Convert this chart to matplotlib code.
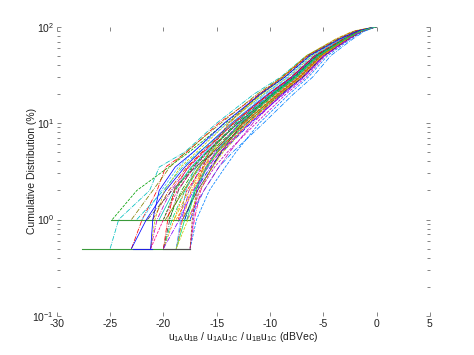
import numpy as np
import matplotlib
matplotlib.use("Agg")
import matplotlib.pyplot as plt
from matplotlib.ticker import LogLocator, NullFormatter

plt.rcParams['font.family'] = ['Liberation Sans', 'DejaVu Sans']
plt.rcParams['mathtext.fontset'] = 'custom'
plt.rcParams['mathtext.rm'] = 'Liberation Sans'
plt.rcParams['mathtext.it'] = 'Liberation Sans'

nan = np.nan
# cumulative levels (%)
levels = [0.5, 1, 2, 3.5, 5, 10, 20, 30, 50, 75, 90, 100]
# x (dBVec) of each curve at each level
curves = [
    [-25.0, -24.2, -21.3, -20.4, -18.0, -15.0, -11.5, -9.0, -6.6, -3.6, -2.0, 0],
    [nan, -24.8, -22.5, -19.5, -17.6, -14.2, -10.8, -8.6, -6.2, -3.3, -1.8, 0],
    [-23.0, -22.0, -20.6, -19.8, -17.8, -14.8, -11.0, -8.8, -6.4, -3.5, -1.9, 0],
    [-23.0, -21.6, -19.8, -18.0, -16.6, -13.6, -10.2, -8.0, -5.8, -3.1, -1.7, 0],
    [-21.2, -20.6, -19.3, -17.6, -16.2, -13.4, -10.0, -7.9, -5.7, -3.1, -1.7, 0],
    [-21.2, -20.8, -19.9, -18.4, -16.9, -14.0, -10.6, -8.3, -6.0, -3.2, -1.7, 0],
    [-20.0, -19.4, -18.6, -17.2, -15.9, -13.2, -9.9, -7.8, -5.6, -3.0, -1.6, 0],
    [-20.0, -19.0, -18.0, -16.6, -15.4, -12.6, -9.4, -7.4, -5.3, -2.8, -1.5, 0],
    [-18.8, -18.3, -17.6, -16.5, -15.3, -12.8, -9.6, -7.6, -5.5, -2.9, -1.5, 0],
    [-18.8, -18.0, -17.1, -16.0, -14.9, -12.2, -9.1, -7.2, -5.2, -2.7, -1.4, 0],
    [-17.5, -17.1, -16.5, -15.5, -14.6, -12.0, -8.9, -7.0, -5.0, -2.6, -1.4, 0],
    [-17.5, -16.9, -15.7, -14.2, -13.2, -11.0, -8.2, -6.4, -4.6, -2.4, -1.2, 0],
    [nan, -23.0, -21.0, -19.4, -17.9, -14.6, -11.2, -8.9, -6.5, -3.5, -1.9, 0],
    [nan, -22.0, -20.2, -18.6, -17.2, -14.0, -10.5, -8.4, -6.1, -3.3, -1.8, 0],
    [nan, -21.0, -19.5, -17.8, -16.4, -13.5, -10.1, -8.0, -5.8, -3.1, -1.7, 0],
    [nan, -20.4, -19.0, -17.4, -16.0, -13.0, -9.7, -7.6, -5.5, -2.9, -1.6, 0],
    [nan, -19.5, -18.3, -16.9, -15.6, -12.7, -9.5, -7.5, -5.4, -2.9, -1.5, 0],
    [nan, -18.6, -17.8, -16.3, -15.0, -12.4, -9.3, -7.3, -5.3, -2.8, -1.5, 0],
    [nan, -18.0, -17.0, -15.6, -14.5, -11.8, -8.8, -6.9, -5.0, -2.6, -1.4, 0],
    [nan, -17.5, -16.6, -15.2, -14.0, -11.3, -8.5, -6.6, -4.8, -2.5, -1.3, 0],
    [nan, -19.0, -17.6, -16.2, -15.4, -13.8, -10.8, -8.8, -6.6, -3.8, -2.2, 0],
    [nan, -18.2, -16.8, -15.4, -14.6, -12.6, -9.8, -7.8, -5.6, -3.0, -1.6, 0],
    [-18.8, -18.2, -17.4, -16.1, -14.9, -12.4, -9.2, -7.2, -5.2, -2.8, -1.5, 0],
    [-17.5, -17.2, -16.8, -16.0, -15.1, -12.9, -9.9, -7.9, -5.7, -3.1, -1.7, 0],
    [-20.0, -19.2, -18.0, -16.6, -15.7, -13.1, -9.8, -7.7, -5.6, -3.0, -1.6, 0],
    [-21.2, -20.0, -18.7, -17.1, -15.8, -13.0, -9.6, -7.5, -5.4, -2.9, -1.6, 0],
    [nan, -17.5, -16.2, -14.8, -13.5, -10.6, -7.8, -6.0, -4.3, -2.2, -1.1, 0],
    [nan, -19.8, -18.1, -16.7, -15.4, -12.5, -9.2, -7.2, -5.2, -2.8, -1.5, 0],
    [-18.8, -18.4, -17.9, -17.0, -16.1, -13.6, -10.4, -8.2, -5.9, -3.2, -1.7, 0],
    [-17.5, -17.3, -16.9, -16.3, -15.7, -13.9, -11.0, -8.8, -6.5, -3.7, -2.1, 0],
    [nan, -22.5, -20.0, -18.2, -16.7, -13.3, -9.9, -7.8, -5.6, -3.0, -1.6, 0],
    [nan, -20.0, -18.9, -17.3, -15.9, -13.0, -9.7, -7.7, -5.6, -3.0, -1.6, 0],
    [-20.0, -19.6, -19.0, -17.7, -16.3, -13.4, -10.1, -8.0, -5.8, -3.1, -1.7, 0],
    [-21.2, -21.0, -20.4, -18.9, -17.2, -14.3, -10.9, -8.6, -6.3, -3.4, -1.8, 0],
    [nan, -17.8, -16.2, -14.8, -13.8, -11.6, -8.9, -7.0, -5.0, -2.6, -1.4, 0],
    [-18.8, -17.7, -16.6, -15.4, -14.4, -12.0, -9.0, -7.1, -5.1, -2.7, -1.4, 0],
    [nan, -21.5, -19.2, -17.0, -15.2, -12.2, -9.0, -6.9, -4.9, -2.6, -1.3, 0],
    [nan, -18.8, -17.3, -15.9, -14.7, -12.1, -9.1, -7.1, -5.1, -2.7, -1.4, 0],
    [-20.0, -18.5, -17.2, -15.8, -14.7, -11.9, -8.7, -6.8, -4.9, -2.6, -1.4, 0],
    [nan, -17.8, -17.0, -15.9, -15.0, -12.8, -9.6, -7.5, -5.4, -2.9, -1.5, 0],
]
# horizontal floor segments: (level %, x start, x end)
floors = [
    (1.0, -24.9, -17.5),
    (0.5, -27.6, -17.5),
    (0.5, -22.9, -21.1),
    (0.5, -20.0, -17.5),
]
floor_colors = ['#3a9a3a', '#3a9a3a', '#2020e0', '#505050']

colors = ['#00bfbf', '#00a000', '#ff0000', '#0000ff', '#bf00bf', '#c8c800',
          '#404040', '#ff8000', '#8000ff', '#00e070', '#ff0080', '#0080ff',
          '#808000', '#40c0ff', '#c04000']
styles = ['-.', '--', '-.', '-', '-.', '--']

fig = plt.figure(figsize=(4.74, 3.55), dpi=100)
ax = fig.add_axes([0.120, 0.110, 0.787, 0.815])

for (lv, xa, xb), c in zip(floors, floor_colors):
    ax.plot([xa, xb], [lv, lv], color=c, lw=0.8, ls='-')

for i, xs in enumerate(curves):
    ax.plot(xs, levels, color=colors[i % len(colors)], ls=styles[i % len(styles)], lw=0.55)

ax.set_yscale('log')
ax.set_xlim(-30, 5)
ax.set_ylim(0.1, 100)
ax.set_xticks(np.arange(-30, 6, 5))
ax.set_xticklabels(['-30', '-25', '-20', '-15', '-10', '-5', '0', '5'])
ax.yaxis.set_major_locator(LogLocator(base=10, numticks=10))
ax.yaxis.set_minor_locator(LogLocator(base=10, subs=np.arange(2, 10), numticks=20))
ax.yaxis.set_minor_formatter(NullFormatter())
for s in ax.spines.values():
    s.set_visible(False)
ax.tick_params(which='both', direction='in', top=True, right=True, labelsize=7.5,
               color='#707070', width=0.6, pad=2, labelcolor='#202020')
ax.tick_params(which='major', length=3)
ax.tick_params(which='minor', length=2)

ax.set_xlabel(r'u$_{\mathregular{1A}}$u$_{\mathregular{1B}}$ / u$_{\mathregular{1A}}$u$_{\mathregular{1C}}$ / u$_{\mathregular{1B}}$u$_{\mathregular{1C}}$ (dBVec)',
              fontsize=7.5, color='#202020', labelpad=1)
ax.set_ylabel('Cumulative Distribution (%)', fontsize=7.5, color='#202020')
ax.yaxis.set_label_coords(-0.054, 0.5)

fig.savefig('out.png', dpi=100, facecolor='white')
